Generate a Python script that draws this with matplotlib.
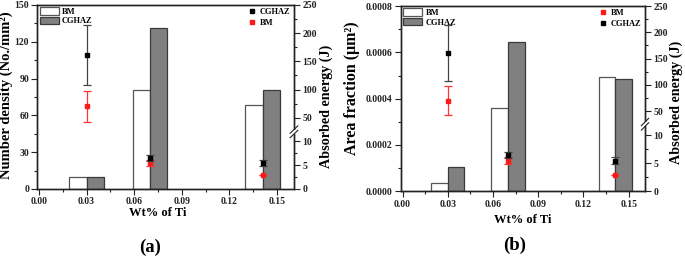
import numpy as np
import matplotlib
matplotlib.use('Agg')
import matplotlib.pyplot as plt
from matplotlib.patches import Rectangle
from matplotlib.lines import Line2D
from matplotlib.ticker import FixedLocator, MultipleLocator, FormatStrFormatter

# --- data ---
ti = [0.03, 0.07, 0.141]  # Wt% of Ti

density_bm = [10, 81, 68.5]       # No./mm^2
density_cghaz = [10, 131, 81]

area_bm = [0.000037, 0.000358, 0.000495]   # um^2
area_cghaz = [0.000106, 0.000646, 0.000486]

energy_cghaz = [161, 6.5, 5.5]    # absorbed energy (J)
energy_cghaz_err = [53, 0.6, 0.6]
energy_bm = [70, 5.5, 3.0]
energy_bm_err = [28, 0.6, 0.0]

energy_major = [0, 5, 10, 50, 100, 150, 200, 250]
energy_minor = [2.5, 7.5, 75, 125, 175, 225]

plt.rcParams['font.family'] = ['Liberation Serif', 'DejaVu Serif']
plt.rcParams['font.weight'] = 'bold'
plt.rcParams['axes.labelweight'] = 'bold'

BAR_W = 0.011
GRAY = '#808080'
EDGE = '#3a3a3a'


def break_scale(frac, low_top=12, high_bot=25, top=250):
    """broken axis: 0..low_top -> 0..frac, high_bot..top -> frac..1"""
    s1 = frac / low_top
    s2 = (1 - frac) / (top - high_bot)

    def fwd(v):
        v = np.asarray(v, dtype=float)
        return np.where(v <= low_top, v * s1,
                        np.where(v >= high_bot, frac + (v - high_bot) * s2, frac))

    def inv(y):
        y = np.asarray(y, dtype=float)
        return np.where(y <= frac, y / s1, high_bot + (y - frac) / s2)
    return fwd, inv


def style_axis(ax):
    for s in ax.spines.values():
        s.set_linewidth(1.0)
        s.set_color('#222222')
    ax.tick_params(which='both', direction='out', labelsize=7, width=0.8,
                   colors='#222222', pad=2)
    ax.tick_params(which='major', length=4)
    ax.tick_params(which='minor', length=2.5)


def draw_panel(ax, bm, cg, frac, legend_order):
    ax.bar(ti, bm, width=-BAR_W, align='edge', facecolor='white',
           edgecolor='#555555', linewidth=0.9, label='BM')
    ax.bar(ti, cg, width=BAR_W, align='edge', facecolor=GRAY,
           edgecolor=EDGE, linewidth=0.9, label='CGHAZ')
    ax.set_xlim(-0.001, 0.1608)
    ax.xaxis.set_major_locator(MultipleLocator(0.03))
    ax.xaxis.set_minor_locator(MultipleLocator(0.015))
    ax.xaxis.set_major_formatter(FormatStrFormatter('%.2f'))
    ax.tick_params(top=False, right=False)
    style_axis(ax)
    ax.legend(loc='upper left', frameon=False, fontsize=6, handlelength=2.3,
              handleheight=1.0, borderaxespad=0.15, borderpad=0.1,
              labelspacing=0.15, handletextpad=0.4)

    ax2 = ax.twinx()
    fwd, inv = break_scale(frac)
    ax2.set_yscale('function', functions=(fwd, inv))
    ax2.set_ylim(0, 250)
    ax2.yaxis.set_major_locator(FixedLocator(energy_major))
    ax2.yaxis.set_minor_locator(FixedLocator(energy_minor))
    ax2.yaxis.set_major_formatter(FormatStrFormatter('%g'))
    style_axis(ax2)

    ax2.errorbar(ti, energy_cghaz, yerr=energy_cghaz_err, fmt='s',
                 color='black', ecolor='#444444', ms=3.3, capsize=3,
                 elinewidth=0.9, capthick=0.9, zorder=5)
    ax2.errorbar(ti, energy_bm, yerr=energy_bm_err, fmt='s',
                 color='#ff1a1a', ecolor='#ff3333', ms=3.3, capsize=3,
                 elinewidth=0.9, capthick=0.9, zorder=4)
    mk_cg = Line2D([], [], marker='s', ls='none', color='black', ms=3.5)
    mk_bm = Line2D([], [], marker='s', ls='none', color='#ff1a1a', ms=3.5)
    if legend_order == 'cg':
        hs, ls = [mk_cg, mk_bm], ['CGHAZ', 'BM']
    else:
        hs, ls = [mk_bm, mk_cg], ['BM', 'CGHAZ']
    ax2.legend(hs, ls, loc='upper right', frameon=False, fontsize=6,
               handlelength=1.0, borderaxespad=0.2, borderpad=0.2,
               labelspacing=0.3, handletextpad=0.5)

    # break marks on right spine
    ax2.add_patch(Rectangle((0.985, frac - 0.012), 0.03, 0.024,
                            transform=ax2.transAxes, facecolor='white',
                            edgecolor='none', clip_on=False, zorder=10))
    for dy in (-0.012, 0.012):
        ax2.plot([0.985, 1.015], [frac + dy - 0.02, frac + dy + 0.02],
                 transform=ax2.transAxes, color='#222222', lw=0.8,
                 clip_on=False, zorder=11)
    return ax2


fig = plt.figure(figsize=(6.85, 2.57), dpi=100)

# panel (a)
ax_a = fig.add_axes([0.0547, 0.2646, 0.3745, 0.716])
ax_a.set_ylim(0, 150)
ax_a.yaxis.set_major_locator(MultipleLocator(30))
ax_a.yaxis.set_minor_locator(MultipleLocator(15))
ax2_a = draw_panel(ax_a, density_bm, density_cghaz, 0.311, 'cg')
ax_a.set_ylabel('Number density (No./mm²)', fontsize=10.5)
ax_a.yaxis.set_label_coords(-0.094, 0.51)
ax2_a.set_ylabel('Absorbed energy (J)', fontsize=10.2)
ax2_a.yaxis.set_label_coords(1.1, 0.45)
ax_a.set_xlabel('Wt% of Ti', fontsize=9)
ax_a.xaxis.set_label_coords(0.47, -0.1)

# panel (b)
ax_b = fig.add_axes([0.5854, 0.2556, 0.3562, 0.721])
ax_b.set_ylim(0, 0.0008)
ax_b.yaxis.set_major_locator(MultipleLocator(0.0002))
ax_b.yaxis.set_minor_locator(MultipleLocator(0.0001))
ax_b.yaxis.set_major_formatter(FormatStrFormatter('%.4f'))
ax2_b = draw_panel(ax_b, area_bm, area_cghaz, 0.362, 'bm')
ax_b.set_ylabel('Area fraction (μm²)', fontsize=11.5)
ax_b.yaxis.set_label_coords(-0.168, 0.557)
ax2_b.set_ylabel('Absorbed energy (J)', fontsize=10.2)
ax2_b.yaxis.set_label_coords(1.1, 0.48)
ax_b.set_xlabel('Wt% of Ti', fontsize=9)
ax_b.xaxis.set_label_coords(0.499, -0.125)

fig.text(150 / 685, 1 - 247 / 257, '(a)', fontsize=13.5, ha='center', va='center')
fig.text(515 / 685, 1 - 245 / 257, '(b)', fontsize=13.5, ha='center', va='center')

fig.savefig('out.png', dpi=100)
